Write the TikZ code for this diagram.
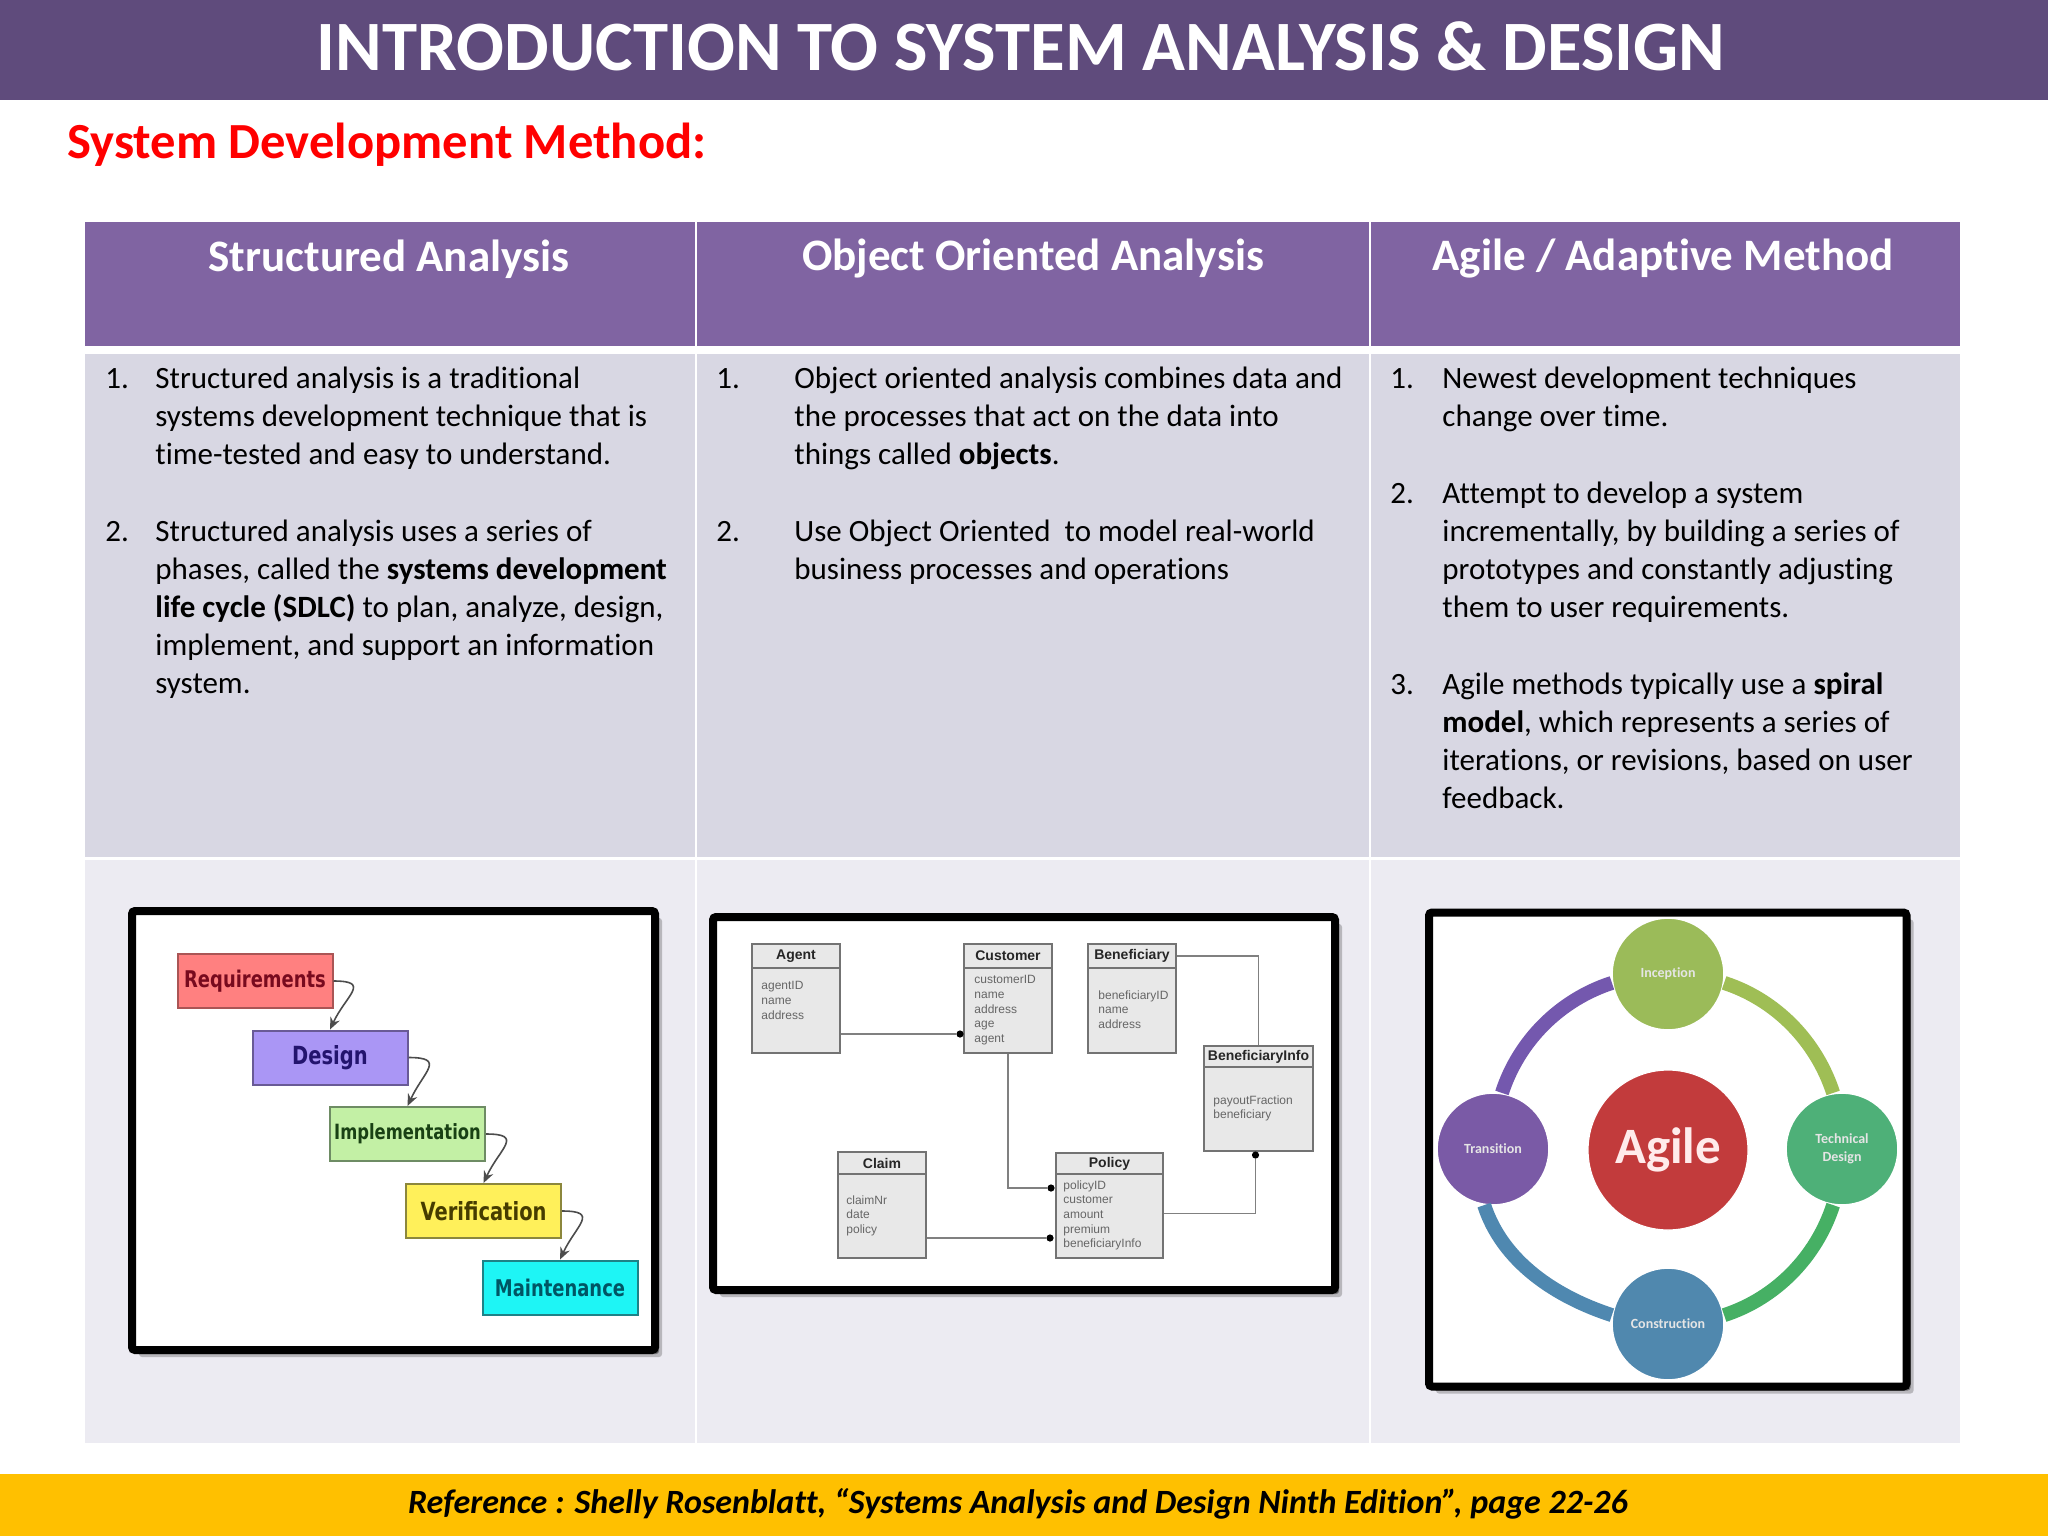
\documentclass[tikz,border=0pt]{standalone}
\usepackage{fontspec}
\setmainfont[Ligatures=NoCommon]{Carlito}
\newfontfamily\flowfamily[FakeStretch=0.78]{DejaVu Sans}
\newfontfamily\umlfamily{Liberation Sans}
\usetikzlibrary{arrows.meta,shadows}
\definecolor{titlebar}{HTML}{5F4B7C}
\definecolor{cellhead}{HTML}{8064A2}
\definecolor{cellbody}{HTML}{D8D7E3}
\definecolor{cellpic}{HTML}{ECEBF2}
\definecolor{footbar}{HTML}{FFC000}
\newcommand{\bodyfont}{\fontsize{15.5}{19}\selectfont}
\tikzset{
headtext/.style={text=white, font=\fontsize{22.5}{26}\selectfont\bfseries},
listnum/.style={anchor=north west, inner sep=0, font=\bodyfont, execute at begin node=\strut},
listtext/.style={anchor=north west, inner sep=0, font=\bodyfont, align=left},
picframe/.style={draw=black, fill=white, line width=4pt, rounded corners=1.5pt,
	drop shadow={shadow xshift=3.5pt, shadow yshift=-3.5pt, fill=black, opacity=.22},
	drop shadow={shadow xshift=2pt, shadow yshift=-2pt, fill=black, opacity=.4}},
flowbox/.style={draw, line width=1pt, inner sep=0, minimum width=77.5pt, minimum height=27pt,
	font=\flowfamily\fontsize{11.5}{13}\selectfont\bfseries},
flowarrow/.style={draw=black!70, line width=.8pt, -{Stealth[length=6pt,width=5pt]}, out=0, in=65, looseness=2},
umlclass/.style={draw=black!55, fill=black!9, line width=.7pt, inner sep=0},
umlhead/.style={umlclass, anchor=north, font=\umlfamily\fontsize{7}{8}\selectfont\bfseries, text=black!85},
umlattr/.style={anchor=north west, inner sep=0, align=left, text=black!60,
	font=\umlfamily\fontsize{6}{7.35}\selectfont},
umlline/.style={draw=black!50, line width=.8pt},
umldot/.style={circle, fill=black, inner sep=0, minimum size=3.6pt},
phase/.style={circle, draw=white, line width=.8pt, inner sep=0, minimum size=56pt, align=center,
	text=white!90!black, font=\fontsize{7}{9}\selectfont\bfseries},
ringarc/.style={line width=7pt, looseness=.9}
}
\begin{document}
\begin{tikzpicture}[x=.5pt, y=-.5pt]
	\useasboundingbox (0,0) rectangle (2048,1536);
	\fill[titlebar] (0,0) rectangle (2048,100);
	\fill[footbar] (0,1474) rectangle (2048,1536);
	\foreach \xa/\xb in {85/695, 697/1369, 1371/1960} {
		\fill[cellhead] (\xa,222) rectangle (\xb,346);
		\fill[cellbody] (\xa,354) rectangle (\xb,857);
		\fill[cellpic] (\xa,860) rectangle (\xb,1443);
	}
	\node[text=white, font=\fontsize{35.4}{40}\selectfont\bfseries] (title) at (1021,46) {INTRODUCTION TO SYSTEM ANALYSIS \& DESIGN};
	\node[anchor=base west, inner sep=0, text=red, font=\fontsize{25.3}{30}\selectfont\bfseries] (subtitle) at (67,158) {System Development Method:};
	\node[headtext] (hsa) at (389,259) {Structured Analysis};
	\node[headtext] (hoo) at (1033,259) {Object Oriented Analysis};
	\node[headtext] (hag) at (1663,259) {Agile / Adaptive Method};
	\node[font=\fontsize{17}{20}\selectfont\bfseries\itshape] (foot) at (1018,1504) {Reference : Shelly Rosenblatt, “Systems Analysis and Design Ninth Edition”, page 22-26};

	\node[listnum] (sa1) at (105,361) {1.};
	\node[listtext] (sa1t) at (155,367) {Structured analysis is a traditional\\systems development technique that is\\time-tested and easy to understand.};
	\node[listnum] (sa2) at (105,514) {2.};
	\node[listtext] (sa2t) at (155,520) {Structured analysis uses a series of\\phases, called the {\bfseries systems development}\\{\bfseries life cycle (SDLC)} to plan, analyze, design,\\implement, and support an information\\system.};
	\node[listnum] (oo1) at (716,361) {1.};
	\node[listtext] (oo1t) at (794,367) {Object oriented analysis combines data and\\the processes that act on the data into\\things called {\bfseries objects}.};
	\node[listnum] (oo2) at (716,514) {2.};
	\node[listtext] (oo2t) at (794,520) {Use Object Oriented\ \ to model real-world\\business processes and operations};
	\node[listnum] (ag1) at (1390,361) {1.};
	\node[listtext] (ag1t) at (1442,367) {Newest development techniques\\change over time.};
	\node[listnum] (ag2) at (1390,476) {2.};
	\node[listtext] (ag2t) at (1442,482) {Attempt to develop a system\\incrementally, by building a series of\\prototypes and constantly adjusting\\them to user requirements.};
	\node[listnum] (ag3) at (1390,667) {3.};
	\node[listtext] (ag3t) at (1442,672) {Agile methods typically use a {\bfseries spiral}\\{\bfseries model}, which represents a series of\\iterations, or revisions, based on user\\feedback.};

	\draw[picframe] (132,911) rectangle (655,1350);
	\draw[picframe] (713,917) rectangle (1335,1290);
	\draw[picframe] (1429,912.5) rectangle (1906.5,1386.5);

	\node[flowbox, fill={rgb,255:red,255;green,128;blue,128}, draw={rgb,255:red,170;green,85;blue,85}, text={rgb,255:red,120;green,10;blue,30}] (req) at (255,981) {Requirements};
	\node[flowbox, fill={rgb,255:red,170;green,150;blue,245}, draw={rgb,255:red,105;green,90;blue,150}, text={rgb,255:red,35;green,20;blue,110}] (des) at (330,1057.5) {\fontsize{12.5}{13}\selectfont Design};
	\node[flowbox, fill={rgb,255:red,195;green,240;blue,165}, draw={rgb,255:red,110;green,140;blue,100}, text={rgb,255:red,25;green,65;blue,20}] (imp) at (407.5,1134) {\fontsize{10.5}{13}\selectfont Implementation};
	\node[flowbox, fill={rgb,255:red,255;green,240;blue,90}, draw={rgb,255:red,140;green,135;blue,60}, text={rgb,255:red,70;green,60;blue,0}] (ver) at (483.5,1211) {\fontsize{12.5}{13}\selectfont Verification};
	\node[flowbox, fill={rgb,255:red,30;green,245;blue,245}, draw={rgb,255:red,30;green,130;blue,135}, text={rgb,255:red,0;green,85;blue,100}] (mnt) at (560,1287.5) {Maintenance};
	\draw[flowarrow] (req.east) to (des.north);
	\draw[flowarrow] (des.east) to (imp.north);
	\draw[flowarrow] (imp.east) to (ver.north);
	\draw[flowarrow] (ver.east) to (mnt.north);

	\foreach \name/\cx/\cy/\w/\h/\hh/\ttl/\ax/\ay/\attrs in {
		agent/796/998.5/44pt/54.5pt/12pt/Agent/761/981/{agentID\\name\\address},
		customer/1008/998.5/44pt/54.5pt/12pt/Customer/974/975/{customerID\\name\\address\\age\\agent},
		beneficiary/1132/998.5/44pt/54.5pt/12pt/Beneficiary/1098/990/{beneficiaryID\\name\\address},
		info/1258.5/1098.5/54.5pt/52.5pt/10.5pt/BeneficiaryInfo/1213/1095/{payoutFraction\\beneficiary},
		claim/882/1205/44pt/53pt/11pt/Claim/846/1195/{claimNr\\date\\policy},
		policy/1109.5/1205.5/53.5pt/52.5pt/10.5pt/Policy/1063/1180/{policyID\\customer\\amount\\premium\\beneficiaryInfo}} {
		\node[umlclass, minimum width=\w, minimum height=\h] (\name) at (\cx,\cy) {};
		\node[umlhead, minimum width=\w, minimum height=\hh] (\name head) at (\name.north) {\ttl};
		\node[umlattr] (\name attrs) at (\ax,\ay) {\attrs};
	}
	\node[umldot] (dota) at (960,1034) {};
	\node[umldot] (dotp) at (1051,1188) {};
	\node[umldot] (dotc) at (1050,1238) {};
	\node[umldot] (dotb) at (1255.5,1155) {};
	\draw[umlline] (agent.east |- dota) -- (dota);
	\draw[umlline] (customer.south) |- (dotp);
	\draw[umlline] (claim.east |- dotc) -- (dotc);
	\draw[umlline] (beneficiaryhead.east) -| (infohead.north);
	\draw[umlline] ([yshift=-4pt]policy.east) -| (dotb);

	\node[circle, fill={rgb,255:red,194;green,59;blue,60}, draw=white, line width=.6pt, inner sep=0, minimum size=80pt, text=white!92!red, font=\fontsize{25.5}{30}\selectfont\bfseries] (agile) at (1668,1150) {Agile};
	\node[phase, fill={rgb,255:red,155;green,187;blue,89}] (ptop) at (1668,974) {Inception};
	\node[phase, fill={rgb,255:red,78;green,176;blue,120}] (pright) at (1842,1149) {Technical\\Design};
	\node[phase, fill={rgb,255:red,80;green,136;blue,174}] (pbottom) at (1668,1324) {Construction};
	\node[phase, fill={rgb,255:red,122;green,90;blue,166}] (pleft) at (1493,1149) {Transition};
	\draw[ringarc, draw={rgb,255:red,159;green,190;blue,85}] (ptop.-9) to[out=-18,in=108] (pright.99);
	\draw[ringarc, draw={rgb,255:red,70;green,176;blue,100}] (pright.-99) to[out=-108,in=18] (pbottom.9);
	\draw[ringarc, draw={rgb,255:red,79;green,136;blue,176}] (pbottom.171) to[out=162,in=-72] (pleft.-99);
	\draw[ringarc, draw={rgb,255:red,116;green,88;blue,174}] (pleft.81) to[out=72,in=198] (ptop.189);
\end{tikzpicture}
\end{document}
